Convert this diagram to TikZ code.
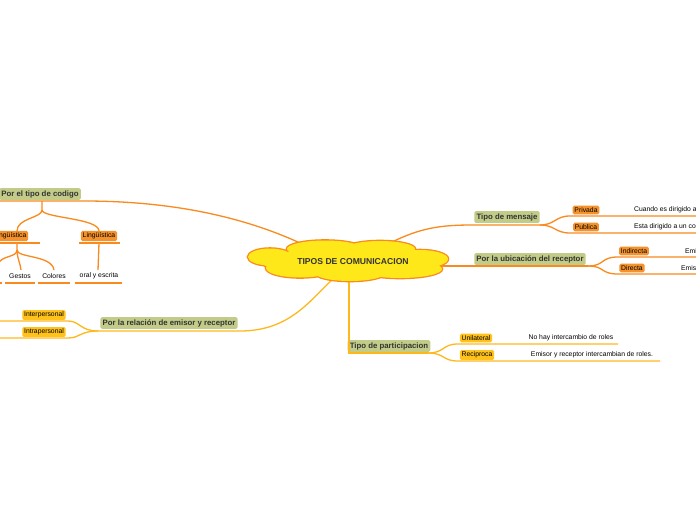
\documentclass[tikz,border=0pt]{standalone}
\usepackage{fontspec}
\setmainfont{Liberation Sans}
\definecolor{lor}{HTML}{F98A1E}
\definecolor{lye}{HTML}{FFB81C}
\definecolor{gbox}{HTML}{C2CC88}
\definecolor{obox}{HTML}{F5922B}
\definecolor{ybox}{HTML}{FFC21A}
\definecolor{cyel}{HTML}{FFE81A}
\definecolor{tx}{HTML}{333333}
\tikzset{
 gnode/.style={fill=gbox,rounded corners=1.5pt,inner sep=2.2pt,font=\fontsize{7.8}{9}\selectfont\bfseries,text=tx},
 onode/.style={fill=obox,rounded corners=1.5pt,inner sep=1.8pt,font=\fontsize{6.8}{8}\selectfont,text=black},
 ynode/.style={fill=ybox,rounded corners=1.5pt,inner sep=1.8pt,font=\fontsize{6.8}{8}\selectfont,text=black},
 leaf/.style={inner sep=1pt,font=\fontsize{6.8}{8}\selectfont,text=black},
 lo/.style={draw=lor,line width=1.3pt},
 ly/.style={draw=lye,line width=1.3pt}
}
\newcommand{\cloudpuffs}{%
 (270,257) ellipse [x radius=22,y radius=8.5]
 (325,249) ellipse [x radius=38,y radius=8.5]
 (380,249) ellipse [x radius=35,y radius=8]
 (420,259) ellipse [x radius=28,y radius=9]
 (300,268) ellipse [x radius=34,y radius=9.5]
 (400,269) ellipse [x radius=42,y radius=9]
 (350,273) ellipse [x radius=35,y radius=8]
 (348,261) ellipse [x radius=90,y radius=12]}
\begin{document}
\begin{tikzpicture}[x=1pt,y=-1pt]
\useasboundingbox (0,0) rectangle (696,520);
\clip (0,0) rectangle (696,520);
\fill[white] (0,0) rectangle (696,520);
\coordinate (c1) at (300,243);
\coordinate (c2) at (333,279);
\coordinate (c3) at (390,243);
\coordinate (c4) at (440,266);
\coordinate (c5) at (349,281);
% codigo
\node[gnode] (cod) at (40,194) {Por el tipo de codigo};
\coordinate (codB) at (42,201);
\draw[lo] (0,201) -- (84,201) .. controls (180,201) and (250,220) .. (c1);
\node[onode] (nol) at (6,236) {No lingüística};
\node[onode] (lin) at (99,236) {Lingüística};
\draw[lo] (0,243) -- (40,243); \draw[lo] (79,243) -- (120,243);
\draw[lo] (codB) -- (42,210) .. controls (42,218) and (17,218) .. (17,231);
\draw[lo] (42,210) .. controls (42,218) and (99,218) .. (99,231);
\node[leaf] (ges) at (20,276) {Gestos};
\node[leaf] (col) at (54,276) {Colores};
\node[leaf] (ora) at (99,276) {oral y escrita};
\draw[lo] (-10,283) -- (2,283); \draw[lo] (5,283) -- (35,283); \draw[lo] (38,283) -- (70,283); \draw[lo] (75,283) -- (122,283);
\draw[lo] (17,243) -- (17,250) .. controls (17,258) and (0,255) .. (-2,265);
\draw[lo] (17,250) .. controls (17,258) and (20,262) .. (21,270);
\draw[lo] (17,250) .. controls (17,258) and (52,255) .. (54,270);
\draw[lo] (99,243) -- (98,270);
% relacion
\node[gnode] (rel) at (169,323) {Por la relación de emisor y receptor};
\draw[ly] (98,331) -- (240,331) .. controls (290,331) and (310,300) .. (c2);
\node[ynode] (int1) at (44,315) {Interpersonal};
\node[ynode] (int2) at (44,332) {Intrapersonal};
\draw[ly] (0,321) -- (68,321) .. controls (80,321) and (80,331) .. (98,331);
\draw[ly] (0,338) -- (68,338) .. controls (80,338) and (80,331) .. (98,331);
% mensaje
\node[gnode] (men) at (507,217) {Tipo de mensaje};
\draw[lo] (c3) .. controls (420,228) and (440,225) .. (472,225) -- (540,225);
\node[onode] (pri) at (586,210) {Privada};
\node[onode] (pub) at (586,227) {Publica};
\draw[lo] (540,225) .. controls (555,225) and (555,216) .. (570,216) -- (696,216);
\draw[lo] (540,225) .. controls (555,225) and (555,233) .. (570,233) -- (696,233);
\node[leaf,anchor=west] (pril) at (633,210) {Cuando es dirigido a una persona};
\node[leaf,anchor=west] (publ) at (633,227) {Esta dirigido a un conjunto};
% ubicacion
\node[gnode] (ubi) at (530,259) {Por la ubicación del receptor};
\draw[lo] (c4) -- (472,266) -- (588,266);
\node[onode] (ind) at (634,251) {Indirecta};
\node[onode] (dir) at (632,268) {Directa};
\draw[lo] (588,266) .. controls (605,266) and (600,257) .. (618,257) -- (696,257);
\draw[lo] (588,266) .. controls (605,266) and (600,274) .. (618,274) -- (696,274);
\node[leaf,anchor=west] (indl) at (684,251) {Emisor};
\node[leaf,anchor=west] (dirl) at (680,268) {Emisor};
% participacion
\node[gnode] (par) at (389,346) {Tipo de participacion};
\draw[ly] (c5) -- (349,353) -- (428,353);
\node[ynode] (uni) at (476,338) {Unilateral};
\node[ynode] (rec) at (477,355) {Reciproca};
\draw[ly] (428,353) .. controls (445,353) and (442,344) .. (458,344) -- (618,344);
\draw[ly] (428,353) .. controls (445,353) and (442,361) .. (458,361) -- (660,361);
\node[leaf] (unil) at (571,338) {No hay intercambio de roles};
\node[leaf] (recl) at (592,355) {Emisor y receptor intercambian de roles.};
% central cloud
\draw[draw=lor,line width=2.6pt] \cloudpuffs;
\fill[cyel] \cloudpuffs;
\node[font=\fontsize{8.6}{10}\selectfont\bfseries,text=tx] (c) at (353,262) {TIPOS DE COMUNICACION};
\end{tikzpicture}
\end{document}
